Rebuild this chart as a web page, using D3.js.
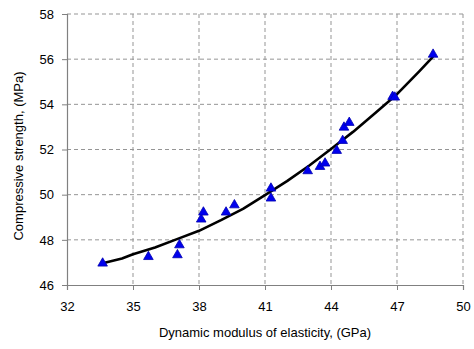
<!DOCTYPE html>
<html><head><meta charset="utf-8">
<script src="https://cdn.jsdelivr.net/npm/d3@7"></script>
<style>body{margin:0;background:#fff}svg{display:block}text{font-family:"Liberation Sans",Arial,sans-serif}</style>
</head><body><svg id="c" width="474" height="349"></svg>
<script>
const xTicks = [32, 35, 38, 41, 44, 47, 50];
const yTicks = [46, 48, 50, 52, 54, 56, 58];
const pointX = [33.62, 35.70, 37.02, 37.11, 38.10, 38.20, 39.23, 39.61, 41.27, 41.27, 42.94, 43.50, 43.73, 44.26, 44.53, 44.59, 44.83, 46.80, 46.90, 48.64];
const pointY = [46.96, 47.25, 47.33, 47.77, 48.91, 49.22, 49.22, 49.54, 50.28, 49.84, 51.05, 51.24, 51.39, 51.95, 52.39, 52.98, 53.19, 54.34, 54.31, 56.21];
const curveX = [33.62, 34.5, 35, 36, 37, 38, 39, 40, 41, 42, 43, 44, 45, 46, 47, 48, 48.64];
const curveY = [46.96, 47.17, 47.36, 47.66, 48.03, 48.40, 48.87, 49.37, 49.98, 50.60, 51.28, 52.02, 52.78, 53.60, 54.45, 55.45, 56.11];
const xLabel = "Dynamic modulus of elasticity, (GPa)";
const yLabel = "Compressive strength, (MPa)";

const svg = d3.select("#c");
const L = 67, R = 463, T = 14, B = 285;
const x = d3.scaleLinear().domain([32, 50]).range([L, R]);
const y = d3.scaleLinear().domain([46, 58]).range([B, T]);

// grid
const g = svg.append("g");
g.selectAll(".hg").data(yTicks.filter(d => d > 46)).join("line")
  .attr("x1", L).attr("x2", R).attr("y1", d => y(d)).attr("y2", d => y(d))
  .attr("stroke", "#959595").attr("stroke-width", 1).attr("stroke-dasharray", "4,3");
g.selectAll(".vg").data(xTicks.filter(d => d > 32)).join("line")
  .attr("y1", T).attr("y2", B).attr("x1", d => x(d)).attr("x2", d => x(d))
  .attr("stroke", "#959595").attr("stroke-width", 1).attr("stroke-dasharray", "4,3");

// axes
const xa = svg.append("g").attr("transform", `translate(0,${B})`)
  .call(d3.axisBottom(x).tickValues(xTicks).tickSize(5).tickPadding(12));
const ya = svg.append("g").attr("transform", `translate(${L},0)`)
  .call(d3.axisLeft(y).tickValues(yTicks).tickSize(5).tickPadding(8));
[xa, ya].forEach(a => {
  a.select(".domain").attr("stroke", "#808080").attr("stroke-width", 1.2);
  a.selectAll(".tick line").attr("stroke", "#808080");
  a.selectAll(".tick text").attr("font-size", 13).attr("fill", "#000")
   .attr("font-family", '"Liberation Sans",Arial,sans-serif');
});

// curve
const line = d3.line().x(d => x(d[0])).y(d => y(d[1])).curve(d3.curveLinear);
svg.append("path").datum(curveX.map((v, i) => [v, curveY[i]]))
  .attr("d", line).attr("fill", "none").attr("stroke", "#000").attr("stroke-width", 2.6)
  .attr("stroke-linejoin", "round");

// points
const tri = d3.symbol().type(d3.symbolTriangle).size(40);
svg.selectAll(".pt").data(pointX.map((v, i) => [v, pointY[i]])).join("path")
  .attr("d", tri)
  .attr("transform", d => `translate(${x(d[0])},${y(d[1])})`)
  .attr("fill", "#0000ee").attr("stroke", "#0000b0").attr("stroke-width", 0.8);

// labels
svg.append("text").attr("x", (L + R) / 2).attr("y", 337).attr("text-anchor", "middle")
  .attr("font-size", 13).text(xLabel);
svg.append("text").attr("transform", `translate(23,156) rotate(-90)`).attr("text-anchor", "middle")
  .attr("font-size", 13).text(yLabel);
</script></body></html>
